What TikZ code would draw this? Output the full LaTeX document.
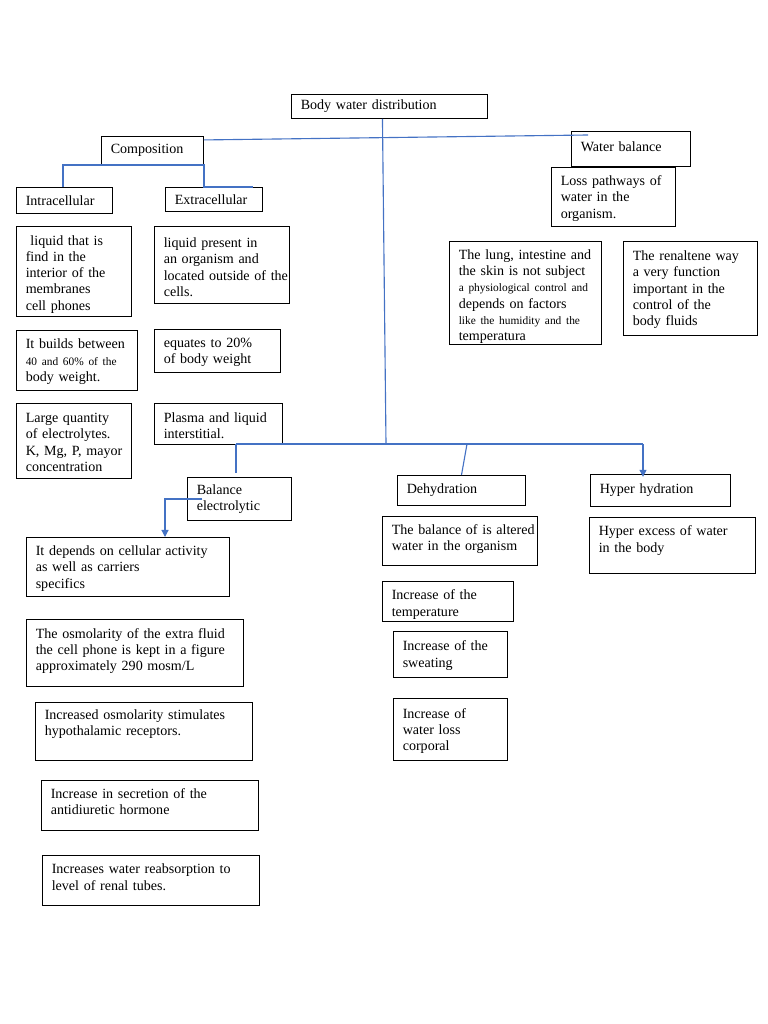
\documentclass[tikz,border=0pt]{standalone}
\usepackage{fontspec}
\setmainfont{Liberation Serif}
\usepackage{tikz}
\usetikzlibrary{arrows.meta,calc}
\definecolor{LinkBlue}{RGB}{68,114,196}
\newcommand{\smalltxt}{\fontsize{8.1}{11.6}\selectfont}
\tikzset{
  card/.style={draw=black,line width=0.7pt,anchor=north west,inner xsep=6.6pt,inner ysep=2pt,
    font=\fontsize{10}{11.6}\selectfont,
    execute at begin node={\raggedright\rightskip=-1cm plus 1fil\relax}},
  wh/.style 2 args={minimum width=#1*0.025cm,minimum height=#2*0.025cm,text width=#1*0.025cm-13.2pt},
  lift/.style={execute at end node={\par\vspace*{#1}}},
  link/.style={draw=LinkBlue,line width=0.8pt},
  linkarrow/.style={link,-{Triangle[length=5pt,width=5pt]}}
}

\begin{document}
\begin{tikzpicture}[x=0.025cm,y=-0.025cm]
\useasboundingbox (0,0) rectangle (768,1024);

% top level
\node[card,wh={196}{24}] (bwd) at (291,94) {Body water distribution};
\node[card,wh={102}{28}] (comp) at (101,136) {Composition};
\node[card,wh={119}{35},lift=3.5pt] (wbal) at (571,131) {Water balance};
\node[card,wh={124}{59},lift=-2pt] (loss) at (551,167) {Loss pathways of\\water in the\\organism.};

% composition column
\node[card,wh={96}{26}] (intra) at (16,187) {Intracellular};
\node[card,wh={97}{24}] (extra) at (165,187) {Extracellular};
\node[card,wh={115}{90},lift=-4pt] (icdef) at (16,226) {\ liquid that is\\find in the\\interior of the\\membranes\\cell phones};
\node[card,wh={135}{77},lift=-3pt] (ecdef) at (154,226) {liquid present in\\an organism and\\located outside of the\\cells.};
\node[card,wh={121}{60},lift=-2pt] (icpct) at (16,330) {It builds between\\{\smalltxt 40 and 60\% of the}\\body weight.};
\node[card,wh={126}{43},lift=-2pt] (ecpct) at (154,329) {equates to 20\%\\of body weight};
\node[card,wh={115}{75},lift=-2pt] (icion) at (16,403) {Large quantity\\of electrolytes.\\K, Mg, P, mayor\\concentration};
\node[card,wh={128}{41},lift=-2pt] (ecion) at (154,403) {Plasma and liquid\\interstitial.};

% water balance column
\node[card,wh={152}{103},lift=-5pt] (lung) at (449,241) {The lung, intestine and\\the skin is not subject\\{\smalltxt a physiological control and}\\depends on factors\\{\smalltxt like the humidity and the}\\temperatura};
\node[card,wh={134}{94},lift=-2pt] (renal) at (623,241) {The renaltene way\\a very function\\important in the\\control of the\\body fluids};

% lower branches
\node[card,wh={104}{43}] (bal) at (187,477) {Balance\\electrolytic};
\node[card,wh={128}{30}] (dehy) at (397,475) {Dehydration};
\node[card,wh={140}{32}] (hyper) at (590,474) {Hyper hydration};
\node[card,wh={155}{49},lift=3pt] (dehydef) at (382,516) {The balance of is altered\\water in the organism};
\node[card,wh={166}{56},lift=7pt] (hyperdef) at (589,517) {Hyper excess of water\\in the body};

% electrolytic chain
\node[card,wh={203}{59},lift=-2pt] (dep) at (26,537) {It depends on cellular activity\\as well as carriers\\specifics};
\node[card,wh={217}{67},lift=3pt] (osm) at (26,619) {The osmolarity of the extra fluid\\the cell phone is kept in a figure\\approximately 290 mosm/L};
\node[card,wh={217}{58},lift=10pt] (hypo) at (35,702) {Increased osmolarity stimulates\\hypothalamic receptors.};
\node[card,wh={217}{50},lift=6pt] (adh) at (41,780) {Increase in secretion of the\\antidiuretic hormone};
\node[card,wh={217}{50},lift=4.5pt] (reabs) at (42,855) {Increases water reabsorption to\\level of renal tubes.};

% dehydration chain
\node[card,wh={131}{40},lift=-4.5pt] (temp) at (382,581) {Increase of the\\temperature};
\node[card,wh={114}{46},lift=-1.5pt] (sweat) at (393,631) {Increase of the\\sweating};
\node[card,wh={114}{62},lift=-2pt] (wloss) at (393,698) {Increase of\\water loss\\corporal};

% connectors
\coordinate (wbtip) at (588,135);
\coordinate (hub) at (386,444);
\coordinate (jl) at (236,444);
\coordinate (jd) at (467,444);
\coordinate (jr) at (643,444);
\draw[link] ([yshift=-2.8pt]comp.north east) -- (wbtip);
\draw[link] ([xshift=-5pt]bwd.south) -- (hub);
\draw[link] (intra.north -| 63,0) |- (comp.south east) -- (extra.north -| comp.south east) -- (extra.north -| 253,0);
\draw[link] (jl) -- (jr);
\draw[link] (jl) -- ([yshift=2.5pt]jl |- bal.north);
\draw[link] (jd) -- (dehy.north);
\draw[linkarrow] (jr) -- ([yshift=-2pt]jr |- hyper.north);
\draw[linkarrow] ([xshift=11pt]bal.west) -| (dep.north -| 165,0);
\end{tikzpicture}
\end{document}
